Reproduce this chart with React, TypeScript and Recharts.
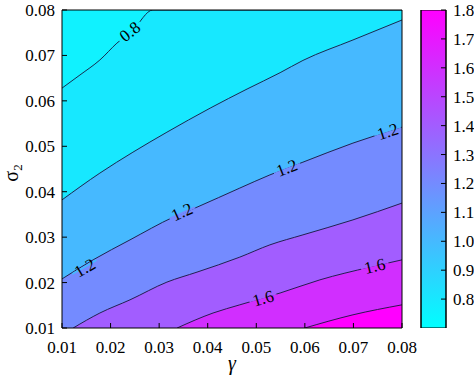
import { ComposedChart, BarChart, Bar, Area, XAxis, YAxis, ReferenceArea, ReferenceDot } from 'recharts'

const FONT = 'Liberation Serif'

// axis ticks
const gammaTicks = [0.01, 0.02, 0.03, 0.04, 0.05, 0.06, 0.07, 0.08]
const sigmaTicks = [0.01, 0.02, 0.03, 0.04, 0.05, 0.06, 0.07, 0.08]
const barTicks = [0.8, 0.9, 1.0, 1.1, 1.2, 1.3, 1.4, 1.5, 1.6, 1.7, 1.8]

// contour lines, [gamma, sigma2]
const c08 = [[0.01, 0.0628], [0.0137, 0.0657], [0.0178, 0.069], [0.0213, 0.0727], [0.0246, 0.0756], [0.0287, 0.08], [0.08, 0.08]]
const c10 = [[0.01, 0.0382], [0.0178, 0.0441], [0.0246, 0.0487], [0.0316, 0.0531], [0.0405, 0.0584], [0.0481, 0.0626], [0.0549, 0.0662], [0.0596, 0.0689], [0.0699, 0.0734], [0.08, 0.0778]]
const c12 = [[0.01, 0.0208], [0.0164, 0.025], [0.024, 0.0294], [0.0329, 0.0344], [0.0378, 0.0366], [0.0466, 0.0408], [0.0528, 0.0437], [0.0596, 0.0465], [0.0699, 0.0507], [0.08, 0.0542]]
const c14 = [[0.0123, 0.01], [0.0178, 0.0133], [0.024, 0.0162], [0.0316, 0.0201], [0.0378, 0.0223], [0.0466, 0.0256], [0.0528, 0.0283], [0.0596, 0.0305], [0.0699, 0.0338], [0.08, 0.0375]]
const c16 = [[0.0337, 0.01], [0.0411, 0.0133], [0.0466, 0.0151], [0.0549, 0.0177], [0.0631, 0.0206], [0.0734, 0.0234], [0.08, 0.025]]
const c18 = [[0.06, 0.01], [0.0699, 0.0129], [0.08, 0.0151]]

const contours = [c08, c10, c12, c14, c16, c18]
// fill above each level (cool colormap)
const bandColors = ['#17e8ff', '#46b9ff', '#748bff', '#a25dff', '#d12eff', '#ff00ff']
const lowColor = '#10f2ff'

// contour labels: level index into contours
const labels = [
  { g: 0.024, s: 0.0752, text: '0.8', level: 0, angle: -38 },
  { g: 0.0147, s: 0.0232, text: '1.2', level: 2, angle: -30 },
  { g: 0.0347, s: 0.0355, text: '1.2', level: 2, angle: -24 },
  { g: 0.0563, s: 0.0452, text: '1.2', level: 2, angle: -21 },
  { g: 0.0771, s: 0.0532, text: '1.2', level: 2, angle: -18 },
  { g: 0.0514, s: 0.0165, text: '1.6', level: 4, angle: -16 },
  { g: 0.0744, s: 0.0236, text: '1.6', level: 4, angle: -13 },
]

const toRows = (pts: number[][]) => pts.map(([g, s]) => ({ g, s }))

const tickStyle = { fill: '#000', fontSize: 17, fontFamily: FONT }
const layer: React.CSSProperties = { position: 'absolute', left: 0, top: 0 }

export default function App() {
  return (
    <div style={{ position: 'absolute', left: 0, top: 0, width: 474, height: 377, overflow: 'hidden', background: '#fff', fontFamily: FONT }}>
      {/* filled contours */}
      <div style={layer}>
        <ComposedChart width={474} height={377} margin={{ top: 10, right: 72, bottom: 49, left: 62 }}>
          <XAxis type="number" dataKey="g" domain={[0.01, 0.08]} allowDataOverflow hide />
          <YAxis type="number" dataKey="s" domain={[0.01, 0.08]} allowDataOverflow hide />
          <ReferenceArea x1={0.01} x2={0.08} y1={0.01} y2={0.08} fill={lowColor} fillOpacity={1} stroke="none" />
          {contours.map((c, i) => (
            <Area
              key={i}
              data={toRows(c)}
              dataKey="s"
              type="monotone"
              baseValue={0.01}
              fill={bandColors[i]}
              fillOpacity={1}
              stroke="#16163c"
              strokeWidth={0.9}
              isAnimationActive={false}
              dot={false}
              activeDot={false}
            />
          ))}
          {labels.map((l, i) => (
            <ReferenceDot
              key={'l' + i}
              x={l.g}
              y={l.s}
              r={0}
              shape={(p: any) => {
                const above = l.level === 0 ? lowColor : bandColors[l.level - 1]
                const below = bandColors[l.level]
                return (
                  <g transform={`rotate(${l.angle} ${p.cx} ${p.cy})`}>
                    <rect x={p.cx - 14} y={p.cy - 2} width={28} height={2} fill={above} />
                    <rect x={p.cx - 14} y={p.cy} width={28} height={2} fill={below} />
                    <text
                      x={p.cx}
                      y={p.cy}
                      textAnchor="middle"
                      dominantBaseline="central"
                      fontFamily={FONT}
                      fontSize={17}
                      fill="#000"
                    >
                      {l.text}
                    </text>
                  </g>
                )
              }}
            />
          ))}
        </ComposedChart>
      </div>
      {/* colorbar */}
      <div style={layer}>
        <BarChart width={474} height={377} data={[{ k: 'c', v: 1.8 }]} margin={{ top: 10, right: 28, bottom: 49, left: 421 }} barCategoryGap={0}>
          <defs>
            <linearGradient id="cool" x1="0" y1="1" x2="0" y2="0">
              <stop offset="0%" stopColor="#00ffff" />
              <stop offset="100%" stopColor="#ff00ff" />
            </linearGradient>
          </defs>
          <XAxis dataKey="k" hide />
          <YAxis domain={[0.7, 1.8]} allowDataOverflow hide />
          <Bar dataKey="v" fill="url(#cool)" stroke="#000" strokeWidth={1} isAnimationActive={false} />
        </BarChart>
      </div>
      {/* axes frame on top of the main plot */}
      <div style={layer}>
        <ComposedChart width={474} height={377} margin={{ top: 9, right: 71, bottom: 19, left: 2 }}>
          <XAxis
            xAxisId="b"
            type="number"
            dataKey="g"
            domain={[0.01, 0.08]}
            ticks={gammaTicks}
            allowDataOverflow
            height={30}
            tickSize={-5}
            tickMargin={18}
            tick={tickStyle}
            tickFormatter={(v: number) => v.toFixed(2)}
            stroke="#000"
            label={{
              content: (p: any) => (
                <text
                  x={p.viewBox.x + p.viewBox.width / 2}
                  y={370}
                  textAnchor="middle"
                  fontFamily={FONT}
                  fontStyle="italic"
                  fontSize={20}
                  fill="#000"
                >
                  γ
                </text>
              ),
            }}
          />
          <XAxis xAxisId="t" orientation="top" type="number" domain={[0.01, 0.08]} ticks={gammaTicks} allowDataOverflow height={1} tickSize={-5} tick={false} stroke="#000" />
          <YAxis
            yAxisId="l"
            type="number"
            dataKey="s"
            domain={[0.01, 0.08]}
            ticks={sigmaTicks}
            allowDataOverflow
            width={60}
            tickSize={-5}
            tickMargin={12}
            tick={tickStyle}
            tickFormatter={(v: number) => v.toFixed(2)}
            stroke="#000"
            label={{
              content: (p: any) => {
                const x = p.viewBox.x + 16
                const y = p.viewBox.y + p.viewBox.height / 2 + 4
                return (
                  <text x={x} y={y} transform={`rotate(-90 ${x} ${y})`} textAnchor="middle" fontFamily={FONT} fontSize={20} fill="#000">
                    σ<tspan fontSize={13} dy={4}>2</tspan>
                  </text>
                )
              },
            }}
          />
          <YAxis yAxisId="r" orientation="right" type="number" domain={[0.01, 0.08]} ticks={sigmaTicks} allowDataOverflow width={1} tickSize={-5} tick={false} stroke="#000" />
        </ComposedChart>
      </div>
      {/* colorbar ticks and labels */}
      <div style={layer}>
        <ComposedChart width={474} height={377} margin={{ top: 10, right: 27, bottom: 49, left: 420 }}>
          <XAxis type="number" domain={[0, 1]} hide />
          <YAxis yAxisId="l" type="number" domain={[0.7, 1.8]} ticks={barTicks} allowDataOverflow width={1} tickSize={-5} tick={false} stroke="#000" />
          <YAxis
            yAxisId="r"
            orientation="right"
            type="number"
            domain={[0.7, 1.8]}
            ticks={barTicks}
            allowDataOverflow
            width={1}
            tickSize={-5}
            tickMargin={12}
            tick={{ ...tickStyle, textAnchor: 'start' }}
            tickFormatter={(v: number) => v.toFixed(1)}
            stroke="#000"
          />
        </ComposedChart>
      </div>
    </div>
  )
}
